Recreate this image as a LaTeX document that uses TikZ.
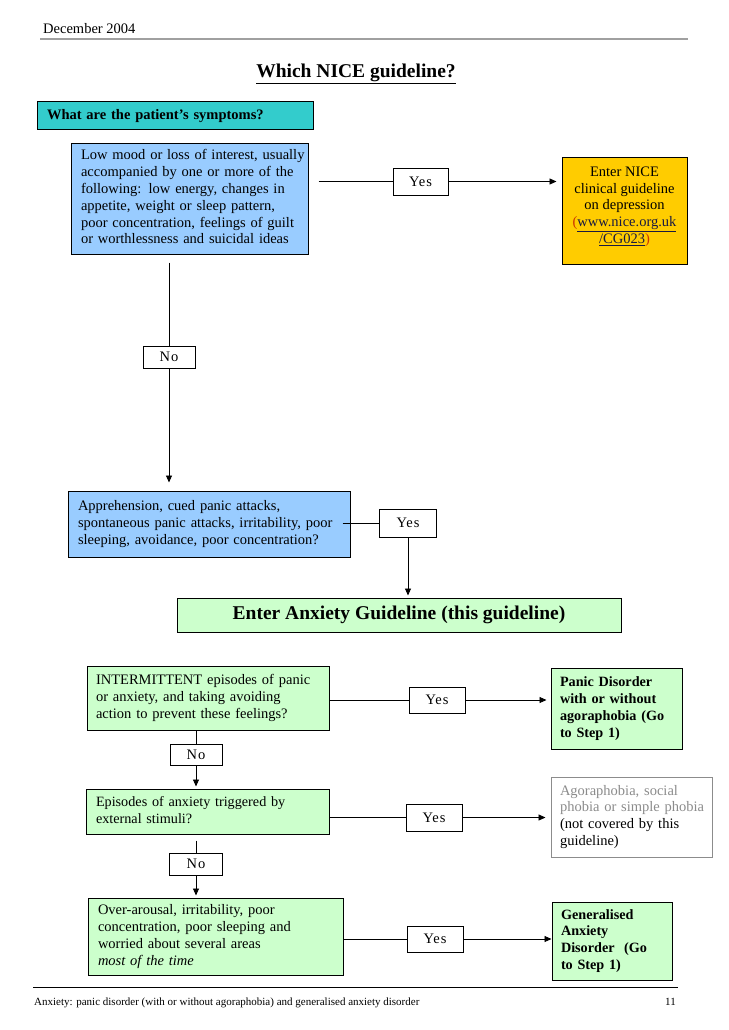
\documentclass[tikz,border=0pt]{standalone}
\usepackage{fontspec}
\setmainfont{Liberation Serif}
\usetikzlibrary{arrows.meta,calc}
\definecolor{cyanbox}{HTML}{33CCCC}
\definecolor{bluebox}{HTML}{99CCFF}
\definecolor{yellowbox}{HTML}{FFCC00}
\definecolor{greenbox}{HTML}{CCFFCC}
\definecolor{grayline}{HTML}{A0A0A0}
\definecolor{graytext}{HTML}{8C8C8C}
\definecolor{redparen}{HTML}{CC3300}
\definecolor{urlcol}{HTML}{1A1A40}
\newcommand{\bodyfont}{\fontsize{14.5}{16.8}\selectfont}
\newcommand{\blines}[1]{\begin{tabular}{@{}l@{}}#1\end{tabular}}
\newcommand{\clines}[1]{\begin{tabular}{@{}c@{}}#1\end{tabular}}
\tikzset{
  box/.style={draw, line width=1pt, inner xsep=10pt, inner ysep=0pt, align=left, font=\bodyfont},
  lbl/.style={draw, line width=0.9pt, inner sep=0pt, font=\fontsize{14.5}{16}\selectfont\addfontfeature{LetterSpace=6}},
  conn/.style={line width=0.9pt},
  arr/.style={conn, -{Triangle[length=7pt,width=6pt]}},
  txt/.style={inner sep=0pt}
}
\begin{document}
\begin{tikzpicture}[x=1pt,y=-1pt]
\useasboundingbox (0,0) rectangle (728,1030);
\fill[white] (0,0) rectangle (728,1030);
% header
\node[txt, anchor=base west, font=\fontsize{14.5}{16}\selectfont] (hdr) at (43,34) {December 2004};
\draw[grayline, line width=1.5pt] (40,39) coordinate (hl1) -- (688,39) coordinate (hl2);
\node[txt, font=\fontsize{19.5}{22}\selectfont\bfseries] (title) at (356,74) {\underline{Which NICE guideline?}};
% symptoms header box
\node[box, fill=cyanbox, minimum width=276pt, minimum height=28pt, text width=256pt, font=\fontsize{14.5}{16}\selectfont\bfseries] (sym) at (175,116) {What are the patient’s symptoms?};
% depression question
\node[box, fill=bluebox, minimum width=237pt, minimum height=111pt, text width=217pt, font=\fontsize{14.5}{16.8}\selectfont] (b1) at (189.5,198.5)
 {\blines{Low mood or loss of interest, usually\\accompanied by one or more of the\\following: low energy, changes in\\appetite, weight or sleep pattern,\\poor concentration, feelings of guilt\\or worthlessness and suicidal ideas}};
\node[lbl, minimum width=55pt, minimum height=27pt] (yes1) at (420.5,181.5) {Yes};
\node[box, fill=yellowbox, minimum width=125pt, minimum height=107pt] (nice) at (624.5,210.5) {};
\node[txt, font=\bodyfont] (nicet) at (624.5,206.5)
 {\clines{Enter NICE\\clinical guideline\\on depression\\{\color{redparen}(}{\color{urlcol}\underline{www.nice.org.uk}}\\{\color{urlcol}\underline{/CG023}}{\color{redparen})}}};
\node[lbl, minimum width=52pt, minimum height=22pt] (no1) at (169,357) {No};
% anxiety question
\node[box, fill=bluebox, minimum width=282pt, minimum height=66pt, text width=262pt] (b2) at (209,524)
 {\blines{Apprehension, cued panic attacks,\\spontaneous panic attacks, irritability, poor\\sleeping, avoidance, poor concentration?}};
\node[lbl, minimum width=57pt, minimum height=28pt] (yes2) at (408,523) {Yes};
\node[box, fill=greenbox, minimum width=444pt, minimum height=34pt, align=center, font=\fontsize{19.5}{22}\selectfont\bfseries] (anx) at (399,615) {Enter Anxiety Guideline (this guideline)};
% intermittent
\node[box, fill=greenbox, minimum width=242pt, minimum height=64pt, text width=224pt, inner xsep=9pt] (int) at (208,698)
 {\blines{INTERMITTENT episodes of panic\\or anxiety, and taking avoiding\\action to prevent these feelings?}};
\node[lbl, minimum width=56pt, minimum height=26pt] (yes3) at (437,700) {Yes};
\node[box, fill=greenbox, minimum width=131pt, minimum height=81pt, text width=113pt, inner xsep=9pt, font=\fontsize{14.2}{16.8}\selectfont\bfseries] (panic) at (616.5,708.5)
 {\blines{Panic Disorder\\with or without\\agoraphobia (Go\\to Step 1)}};
\node[lbl, minimum width=52pt, minimum height=21pt] (no2) at (196,754.5) {No};
% external stimuli
\node[box, fill=greenbox, minimum width=243pt, minimum height=45pt, text width=223pt, font=\fontsize{14.2}{16.8}\selectfont] (epi) at (207.5,811.5)
 {\blines{Episodes of anxiety triggered by\\external stimuli?}};
\node[lbl, minimum width=56pt, minimum height=27pt] (yes4) at (434,817.5) {Yes};
\node[box, draw=graytext, fill=white, minimum width=161pt, minimum height=80pt, text width=143pt, inner xsep=9pt] (agora) at (631.5,817)
 {\blines{{\color{graytext}Agoraphobia, social}\\{\color{graytext}phobia or simple phobia}\\(not covered by this\\guideline)}};
\node[lbl, minimum width=53pt, minimum height=22pt] (no3) at (196,864) {No};
% over-arousal
\node[box, fill=greenbox, minimum width=255pt, minimum height=77pt, text width=235pt] (over) at (215.5,936.5)
 {\blines{Over-arousal, irritability, poor\\concentration, poor sleeping and\\worried about several areas\\\textit{most of the time}}};
\node[lbl, minimum width=56pt, minimum height=26pt] (yes5) at (435,939) {Yes};
\node[box, fill=greenbox, minimum width=120pt, minimum height=78pt, text width=102pt, inner xsep=9pt, font=\fontsize{14.2}{16.8}\selectfont\bfseries] (gen) at (612,941)
 {\blines{Generalised\\Anxiety\\Disorder~ (Go\\to Step 1)}};
% connectors
\coordinate (c1) at ($(b1.east |- yes1)+(10,0)$);
\draw[conn] (c1) -- (yes1.west);
\draw[arr, shorten >=5pt] (yes1.east) -- (yes1.east -| nice.west);
\coordinate (c2) at ($(no1 |- b1.south)+(0,8)$);
\draw[conn] (c2) -- (no1.north);
\draw[arr, shorten >=8pt] (no1.south) -- (no1.south |- b2.north);
\coordinate (c3) at ($(b2.east |- yes2)+(-8,0)$);
\draw[conn] (c3) -- (yes2.west);
\draw[arr, shorten >=2pt] (yes2.south) -- (yes2.south |- anx.north);
\draw[conn] (int.east |- yes3) -- (yes3.west);
\draw[arr, shorten >=4pt] (yes3.east) -- (yes3.east -| panic.west);
\draw[conn] (no2 |- int.south) -- (no2.north);
\draw[arr, shorten >=2pt] (no2.south) -- (no2.south |- epi.north);
\draw[conn] (epi.east |- yes4) -- (yes4.west);
\draw[arr, shorten >=5pt] (yes4.east) -- (yes4.east -| agora.west);
\coordinate (c4) at ($(no3 |- epi.south)+(0,6)$);
\draw[conn] (c4) -- (no3.north);
\draw[arr, shorten >=2pt] (no3.south) -- (no3.south |- over.north);
\draw[conn] (over.east |- yes5) -- (yes5.west);
\draw[arr] (yes5.east) -- (yes5.east -| gen.west);
% footer
\draw[line width=1pt] (33,987) coordinate (fl1) -- (678,987) coordinate (fl2);
\node[txt, anchor=base west, font=\fontsize{11}{13}\selectfont] (ftr) at (34,1005) {Anxiety: panic disorder (with or without agoraphobia) and generalised anxiety disorder};
\node[txt, anchor=base east, font=\fontsize{11}{13}\selectfont] (pg) at (676,1005) {11};
\end{tikzpicture}
\end{document}
